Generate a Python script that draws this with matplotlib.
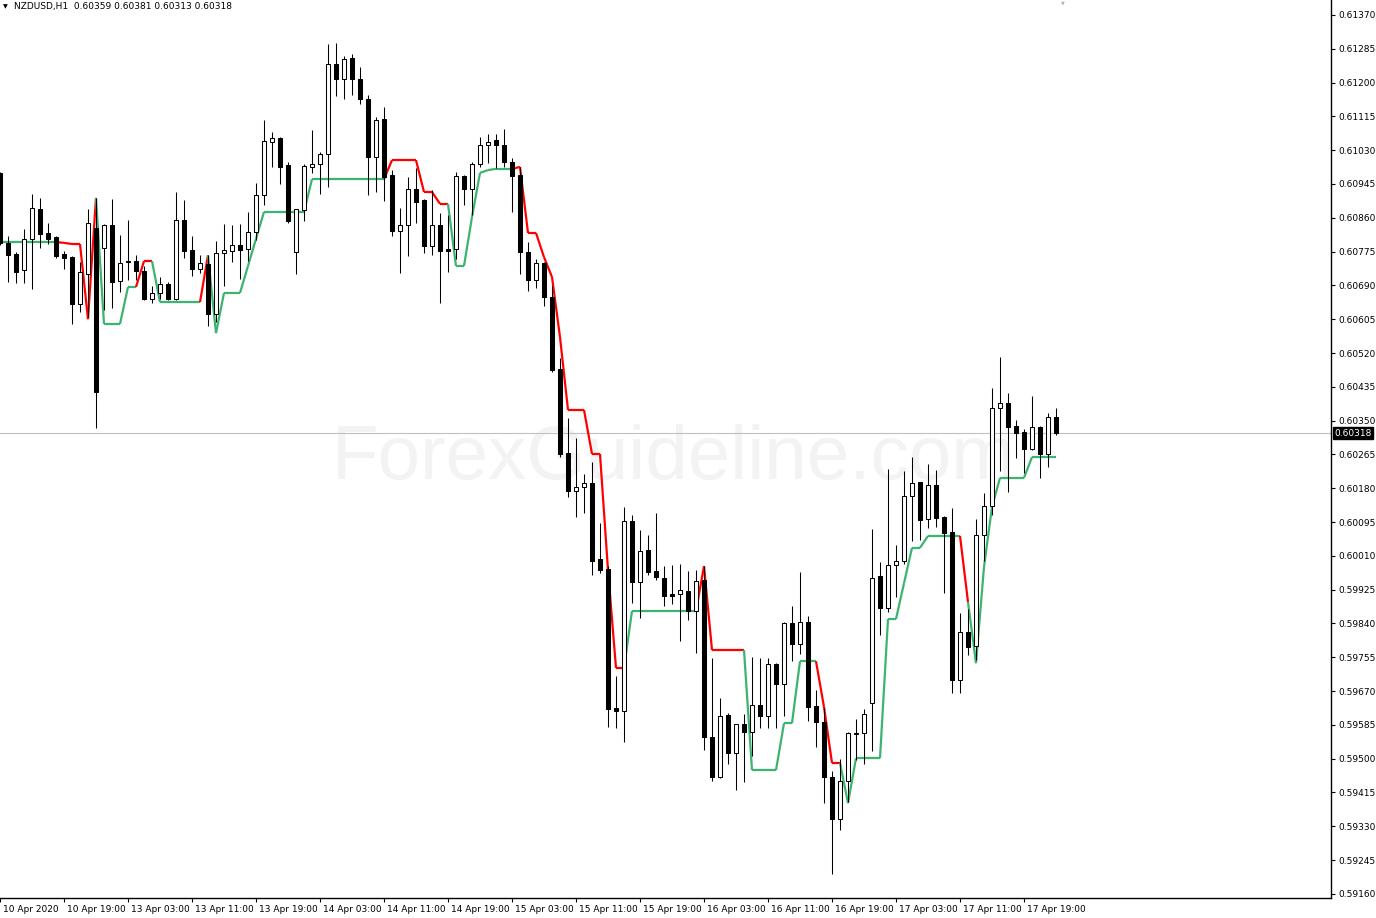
import matplotlib
matplotlib.use("Agg")
import matplotlib.pyplot as plt
import matplotlib.transforms as mtransforms
from matplotlib.collections import LineCollection
import numpy as np

# NZDUSD H1, bars from 10 Apr 11:00 to 17 Apr 23:00 (bar 0 = 10 Apr 19:00)
first_bar = -8

opens = [0.60973, 0.60797, 0.60769, 0.60729, 0.60807, 0.60882, 0.60822, 0.60812,
         0.60769, 0.60761, 0.60643, 0.60719, 0.60834, 0.60784, 0.60842, 0.60701,
         0.60751, 0.60751, 0.60726, 0.60656, 0.60671, 0.60693, 0.60656, 0.60854,
         0.60779, 0.60731, 0.60744, 0.60618, 0.60771, 0.60776, 0.60792, 0.60781,
         0.60824, 0.60917, 0.61051, 0.61061, 0.60993, 0.60774, 0.60880, 0.60988,
         0.60995, 0.61020, 0.61247, 0.61209, 0.61262, 0.61209, 0.61159, 0.61013,
         0.61108, 0.60968, 0.60827, 0.60842, 0.60932, 0.60905, 0.60789, 0.60842,
         0.60781, 0.60781, 0.60965, 0.60932, 0.60995, 0.61043, 0.61056, 0.61043,
         0.61000, 0.60968, 0.60774, 0.60704, 0.60746, 0.60661, 0.60480, 0.60268,
         0.60173, 0.60183, 0.60193, 0.60002, 0.59977, 0.59627, 0.59620, 0.60097,
         0.59944, 0.60024, 0.59972, 0.59954, 0.59914, 0.59914, 0.59921, 0.59871,
         0.59949, 0.59554, 0.59454, 0.59610, 0.59514, 0.59587, 0.59567, 0.59635,
         0.59607, 0.59738, 0.59687, 0.59841, 0.59788, 0.59843, 0.59632, 0.59592,
         0.59454, 0.59348, 0.59443, 0.59562, 0.59564, 0.59640, 0.59959, 0.59879,
         0.59987, 0.59997, 0.60160, 0.60195, 0.60102, 0.60188, 0.60107, 0.60070,
         0.59698, 0.59818, 0.59783, 0.60062, 0.60135, 0.60382, 0.60394, 0.60336,
         0.60321, 0.60278, 0.60334, 0.60266, 0.60359]

highs = [0.60975, 0.60814, 0.60774, 0.60832, 0.60920, 0.60910, 0.60847, 0.60814,
         0.60776, 0.60764, 0.60749, 0.60882, 0.60910, 0.60844, 0.60907, 0.60817,
         0.60854, 0.60766, 0.60739, 0.60688, 0.60711, 0.60699, 0.60925, 0.60905,
         0.60814, 0.60766, 0.60766, 0.60802, 0.60844, 0.60842, 0.60844, 0.60875,
         0.60947, 0.61106, 0.61076, 0.61063, 0.61000, 0.60882, 0.60995, 0.61081,
         0.61025, 0.61297, 0.61300, 0.61267, 0.61272, 0.61239, 0.61169, 0.61113,
         0.61139, 0.60980, 0.60885, 0.60963, 0.60985, 0.60907, 0.60930, 0.60872,
         0.60867, 0.60975, 0.60968, 0.61000, 0.61063, 0.61071, 0.61071, 0.61083,
         0.61010, 0.60988, 0.60799, 0.60756, 0.60749, 0.60688, 0.60507, 0.60356,
         0.60306, 0.60216, 0.60246, 0.60092, 0.59984, 0.59708, 0.60133, 0.60112,
         0.60075, 0.60062, 0.60118, 0.59984, 0.59987, 0.59989, 0.59972, 0.59974,
         0.59984, 0.59753, 0.59652, 0.59615, 0.59587, 0.59612, 0.59755, 0.59753,
         0.59753, 0.59740, 0.59843, 0.59884, 0.59969, 0.59858, 0.59672, 0.59627,
         0.59469, 0.59499, 0.59567, 0.59599, 0.59625, 0.60077, 0.59994, 0.60228,
         0.60037, 0.60223, 0.60258, 0.60195, 0.60241, 0.60226, 0.60110, 0.60130,
         0.59866, 0.59876, 0.60102, 0.60168, 0.60432, 0.60510, 0.60419, 0.60351,
         0.60329, 0.60412, 0.60336, 0.60369, 0.60381]

lows = [0.60792, 0.60699, 0.60696, 0.60696, 0.60681, 0.60784, 0.60794, 0.60759,
        0.60731, 0.60593, 0.60623, 0.60610, 0.60331, 0.60628, 0.60633, 0.60673,
        0.60704, 0.60704, 0.60653, 0.60646, 0.60656, 0.60653, 0.60653, 0.60759,
        0.60714, 0.60721, 0.60588, 0.60598, 0.60688, 0.60749, 0.60706, 0.60751,
        0.60804, 0.60892, 0.60988, 0.60945, 0.60847, 0.60719, 0.60852, 0.60973,
        0.60920, 0.60937, 0.61166, 0.61159, 0.61169, 0.61146, 0.60917, 0.60925,
        0.60902, 0.60814, 0.60721, 0.60764, 0.60847, 0.60771, 0.60766, 0.60646,
        0.60724, 0.60756, 0.60892, 0.60867, 0.60988, 0.60998, 0.60985, 0.60988,
        0.60875, 0.60719, 0.60676, 0.60683, 0.60638, 0.60472, 0.60258, 0.60158,
        0.60107, 0.60118, 0.59962, 0.59967, 0.59579, 0.59577, 0.59542, 0.59891,
        0.59853, 0.59962, 0.59949, 0.59884, 0.59889, 0.59796, 0.59848, 0.59765,
        0.59521, 0.59443, 0.59451, 0.59486, 0.59421, 0.59441, 0.59506, 0.59577,
        0.59577, 0.59577, 0.59607, 0.59745, 0.59763, 0.59594, 0.59529, 0.59388,
        0.59210, 0.59320, 0.59391, 0.59496, 0.59486, 0.59519, 0.59811, 0.59869,
        0.59906, 0.59989, 0.60047, 0.60050, 0.60080, 0.60082, 0.59916, 0.59665,
        0.59665, 0.59760, 0.59748, 0.59997, 0.60112, 0.60223, 0.60170, 0.60256,
        0.60218, 0.60276, 0.60206, 0.60233, 0.60313]

closes = [0.60797, 0.60766, 0.60724, 0.60807, 0.60885, 0.60819, 0.60807, 0.60764,
          0.60759, 0.60643, 0.60724, 0.60847, 0.60422, 0.60842, 0.60699, 0.60746,
          0.60749, 0.60726, 0.60656, 0.60671, 0.60693, 0.60656, 0.60854, 0.60776,
          0.60731, 0.60746, 0.60618, 0.60771, 0.60779, 0.60792, 0.60779, 0.60824,
          0.60917, 0.61053, 0.61061, 0.60988, 0.60852, 0.60882, 0.60990, 0.60995,
          0.61020, 0.61247, 0.61209, 0.61259, 0.61209, 0.61159, 0.61013, 0.61106,
          0.60963, 0.60827, 0.60842, 0.60932, 0.60900, 0.60789, 0.60842, 0.60776,
          0.60776, 0.60965, 0.60932, 0.60995, 0.61043, 0.61051, 0.61043, 0.61000,
          0.60965, 0.60774, 0.60704, 0.60746, 0.60661, 0.60477, 0.60266, 0.60173,
          0.60183, 0.60193, 0.59997, 0.59974, 0.59625, 0.59620, 0.60097, 0.59944,
          0.60022, 0.59969, 0.59957, 0.59909, 0.59909, 0.59924, 0.59871, 0.59946,
          0.59554, 0.59454, 0.59607, 0.59514, 0.59587, 0.59567, 0.59635, 0.59607,
          0.59738, 0.59687, 0.59841, 0.59788, 0.59843, 0.59630, 0.59592, 0.59454,
          0.59348, 0.59443, 0.59564, 0.59564, 0.59612, 0.59954, 0.59879, 0.59987,
          0.59997, 0.60160, 0.60193, 0.60100, 0.60188, 0.60105, 0.60067, 0.59698,
          0.59818, 0.59780, 0.60062, 0.60135, 0.60382, 0.60394, 0.60334, 0.60319,
          0.60278, 0.60334, 0.60266, 0.60359, 0.60318]

# trailing stop indicator value per bar, and its trend (g = up / green, r = down / red)
stop_line = [0.60799, 0.60799, 0.60799, 0.60799, 0.60799, 0.60799, 0.60799, 0.60799,
             0.60797, 0.60794, 0.60794, 0.60605, 0.60910, 0.60593, 0.60593, 0.60593,
             0.60686, 0.60686, 0.60751, 0.60751, 0.60648, 0.60648, 0.60648, 0.60648,
             0.60648, 0.60648, 0.60766, 0.60570, 0.60671, 0.60671, 0.60671, 0.60739,
             0.60807, 0.60875, 0.60875, 0.60875, 0.60875, 0.60875, 0.60875, 0.60957,
             0.60957, 0.60957, 0.60957, 0.60957, 0.60957, 0.60957, 0.60957, 0.60957,
             0.60957, 0.61005, 0.61005, 0.61005, 0.61005, 0.60925, 0.60925, 0.60895,
             0.60895, 0.60739, 0.60739, 0.60862, 0.60973, 0.60980, 0.60983, 0.60983,
             0.60983, 0.60988, 0.60822, 0.60822, 0.60761, 0.60711, 0.60560, 0.60377,
             0.60377, 0.60377, 0.60266, 0.60266, 0.59974, 0.59728, 0.59728, 0.59871,
             0.59871, 0.59871, 0.59871, 0.59871, 0.59871, 0.59871, 0.59871, 0.59871,
             0.59984, 0.59773, 0.59773, 0.59773, 0.59773, 0.59773, 0.59471, 0.59471,
             0.59471, 0.59471, 0.59589, 0.59589, 0.59745, 0.59745, 0.59745, 0.59630,
             0.59489, 0.59489, 0.59388, 0.59501, 0.59501, 0.59501, 0.59501, 0.59851,
             0.59851, 0.59941, 0.60030, 0.60030, 0.60060, 0.60060, 0.60060, 0.60060,
             0.60060, 0.59894, 0.59740, 0.59982, 0.60133, 0.60206, 0.60206, 0.60206,
             0.60206, 0.60258, 0.60258, 0.60258, 0.60258]

stop_trend = ("gggggggg" "rrrrr" "ggggg" "rr" "gggggg" "r"
              "gggggggggggggggggggggg" "rrrrrrrr" "gggggggg"
              "rrrrrrrrrrrrrr" "ggggggggg" "rrrrrr" "ggggggggg" "rrr"
              "ggggggggggggggg" "r" "ggggggggggg")

time_ticks = [-8, 0, 8, 16, 24, 32, 40, 48, 56, 64, 72, 80, 88, 96, 104, 112, 120]
time_labels = ["10 Apr 2020", "10 Apr 19:00", "13 Apr 03:00", "13 Apr 11:00",
               "13 Apr 19:00", "14 Apr 03:00", "14 Apr 11:00", "14 Apr 19:00",
               "15 Apr 03:00", "15 Apr 11:00", "15 Apr 19:00", "16 Apr 03:00",
               "16 Apr 11:00", "16 Apr 19:00", "17 Apr 03:00", "17 Apr 11:00",
               "17 Apr 19:00"]

price_ticks = [0.59160, 0.59245, 0.59330, 0.59415, 0.59500, 0.59585, 0.59670,
               0.59755, 0.59840, 0.59925, 0.60010, 0.60095, 0.60180, 0.60265,
               0.60350, 0.60435, 0.60520, 0.60605, 0.60690, 0.60775, 0.60860,
               0.60945, 0.61030, 0.61115, 0.61200, 0.61285, 0.61370]

x = np.arange(first_bar, first_bar + len(closes))
o = np.array(opens)
h = np.array(highs)
l = np.array(lows)
c = np.array(closes)

fig = plt.figure(figsize=(13.76, 9.18), dpi=100)
ax = fig.add_axes([0, 20 / 918, 1331 / 1376, 898 / 918])

# watermark
ax.text(0.506, 0.488, "ForexGuideline.com", transform=ax.transAxes,
        ha="center", va="center", fontsize=55, family="Liberation Sans",
        color="#f3f3f3", zorder=0)

# last price line
ax.axhline(closes[-1], color="#c0c0c0", lw=0.8, zorder=1)

# indicator line, coloured per segment by trend of the bar it ends on
pts = np.column_stack([x, stop_line])
segs = [pts[i - 1:i + 1] for i in range(1, len(pts))]
seg_colors = ["#3cb371" if t == "g" else "#ff0000" for t in stop_trend[1:]]
ax.add_collection(LineCollection(segs, colors=seg_colors, linewidths=1.6, zorder=2))

# candles
ax.vlines(x, l, h, color="black", lw=0.75, zorder=3)
body_colors = ["white" if cc > oo else "black" for oo, cc in zip(o, c)]
ax.bar(x, c - o, bottom=o, width=0.5, color=body_colors, edgecolor="black",
       linewidth=0.75, zorder=4)

ax.set_xlim(first_bar, first_bar + 1331 / 8)
ax.set_ylim(0.591495, 0.614077)

for side in ["top", "left"]:
    ax.spines[side].set_visible(False)
for side in ["right", "bottom"]:
    ax.spines[side].set_linewidth(1.0)

ax.yaxis.tick_right()
ax.set_yticks(price_ticks)
ax.set_yticklabels([f"{p:.5f}" for p in price_ticks])
ax.tick_params(axis="y", direction="out", length=3, width=0.8, pad=2,
               labelsize=6.5)

ax.set_xticks(time_ticks)
ax.set_xticklabels(time_labels, ha="left")
ax.tick_params(axis="x", direction="out", length=3, width=0.8, pad=2,
               labelsize=6.5)
shift = mtransforms.ScaledTranslation(3 / 100, 0, fig.dpi_scale_trans)
for lab in ax.get_xticklabels():
    lab.set_transform(lab.get_transform() + shift)

# current price box
ax.annotate(f"{closes[-1]:.5f}", xy=(1, closes[-1]),
            xycoords=("axes fraction", "data"), xytext=(2.5, 0),
            textcoords="offset points", ha="left", va="center",
            fontsize=6.5, color="white",
            bbox=dict(boxstyle="square,pad=0.15", fc="black", ec="black"))

# header
fig.text(3 / 1376, 1 - 7 / 918, "\u25bc", fontsize=4.5, va="center", ha="left")
fig.text(14 / 1376, 1 - 7 / 918,
         f"NZDUSD,H1  {opens[-1]:.5f} {highs[-1]:.5f} {lows[-1]:.5f} {closes[-1]:.5f}",
         fontsize=6.5, va="center", ha="left")
fig.text(1063 / 1376, 1 - 3 / 918, "\u25bc", fontsize=3.5, color="#b0b0b0",
         va="center", ha="center")

fig.savefig("out.png", dpi=100, facecolor="white")
